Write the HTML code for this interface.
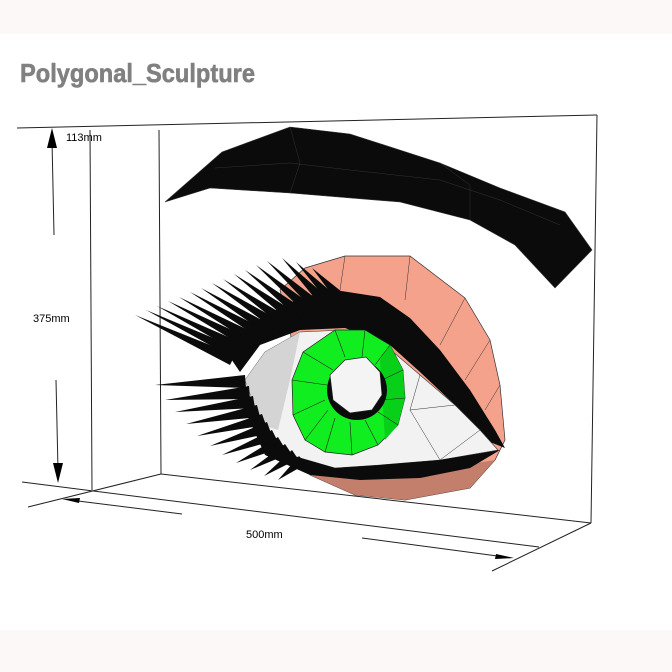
<!DOCTYPE html>
<html><head><meta charset="utf-8"><style>
html,body{margin:0;padding:0;background:#fff}
svg{display:block}
</style></head><body>
<svg width="672" height="672" viewBox="0 0 672 672" xmlns="http://www.w3.org/2000/svg">
<rect x="0" y="0" width="672" height="34" fill="#fdf8f8"/>
<rect x="0" y="630" width="672" height="42" fill="#fdf8f8"/>
<text x="20" y="82" textLength="235" lengthAdjust="spacingAndGlyphs" font-family="'Liberation Sans',sans-serif" font-weight="bold" font-size="26" fill="#808080" stroke="#808080" stroke-width="0.6">Polygonal_Sculpture</text>
<g stroke="#222" stroke-width="1" fill="none">
<line x1="17" y1="128" x2="597" y2="115"/>
<line x1="90" y1="130" x2="92" y2="490"/>
<line x1="159" y1="130" x2="161" y2="474"/>
<line x1="597" y1="115" x2="591" y2="523"/>
<line x1="161" y1="474" x2="591" y2="523"/>
<line x1="22" y1="482" x2="539" y2="547"/>
<line x1="161" y1="474" x2="28" y2="507"/>
<line x1="591" y1="523" x2="492" y2="571"/>
<line x1="52" y1="140" x2="54" y2="235"/>
<line x1="56" y1="380" x2="58" y2="470"/>
<line x1="70" y1="500" x2="182" y2="514"/>
<line x1="362" y1="538" x2="505" y2="557"/>
</g>
<polygon points="52,128 47,148 57,148" fill="#000"/>
<polygon points="58,483 53,463 63,463" fill="#000"/>
<polygon points="62,499 80,498 79,503" fill="#000"/>
<polygon points="514,558 496,554 495,559" fill="#000"/>
<g font-family="'Liberation Sans',sans-serif" font-size="11" fill="#000">
<text x="66" y="141">113mm</text>
<text x="33" y="322">375mm</text>
<text x="246" y="538">500mm</text>
</g>
<!-- eyebrow -->
<polygon points="165,202 222,152 290,127 350,134 440,163 500,188 565,212 592,250 555,288 515,245 470,220 400,202 290,193 210,188" fill="#0b0b0b" stroke="#333" stroke-width="0.6"/>
<g stroke="#333" stroke-width="0.5" fill="none">
<polyline points="215,168 290,163 350,170 440,180 500,200 560,225"/>
<polyline points="290,127 300,163 290,193"/>
<polyline points="440,163 470,185 470,220"/>
</g>
<!-- skin -->
<polygon points="280,290 305,268 345,256 410,256 465,298 490,340 500,385 505,440 495,460 470,488 405,500 355,495 310,475 290,330" fill="#f4a28c" stroke="#333" stroke-width="0.7"/>
<polygon points="310,475 355,495 405,500 470,488 495,460 420,472 350,478" fill="#c47e6c"/>
<g stroke="#333" stroke-width="0.5" fill="none">
<polyline points="345,256 340,290"/><polyline points="410,256 405,300"/><polyline points="465,298 440,345"/>
<polyline points="490,340 465,380"/><polyline points="500,385 485,410"/>
</g>
<!-- upper lid black band -->
<polygon points="225,350 265,315 300,298 335,290 380,297 410,318 440,350 470,390 495,430 505,448 485,440 455,405 420,372 390,345 345,328 300,330 260,345 240,372" fill="#0b0b0b"/>
<!-- eye white -->
<polygon points="245,380 265,352 300,332 345,330 385,345 420,375 455,405 480,430 498,450 440,460 380,465 335,468 290,455 262,425" fill="#f2f2f2" stroke="#333" stroke-width="0.6"/>
<polygon points="245,380 265,352 300,332 290,380 278,430 262,425" fill="#d4d4d4"/>
<g stroke="#333" stroke-width="0.5" fill="none">
<polyline points="420,375 410,410 440,460"/><polyline points="455,405 410,410"/><polyline points="480,430 440,460"/>
</g>
<!-- lower lid black -->
<polygon points="238,395 262,425 290,455 335,468 380,465 440,460 500,450 470,468 420,478 360,480 310,475 265,455" fill="#0b0b0b"/>
<!-- iris -->
<polygon points="335,330 365,330 390,345 403,370 405,398 398,425 378,445 352,455 325,452 305,440 293,415 292,380 303,352" fill="#10ee20" stroke="#222" stroke-width="0.7"/>
<polygon points="390,345 403,370 405,398 398,425 385,440 380,360" fill="#08d018"/>
<g stroke="#222" stroke-width="0.6">
<line x1="335" y1="330" x2="345" y2="357"/><line x1="365" y1="330" x2="362" y2="357"/>
<line x1="390" y1="345" x2="375" y2="365"/><line x1="403" y1="370" x2="382" y2="380"/>
<line x1="405" y1="398" x2="382" y2="400"/><line x1="398" y1="425" x2="378" y2="412"/>
<line x1="378" y1="445" x2="365" y2="420"/><line x1="352" y1="455" x2="350" y2="422"/>
<line x1="325" y1="452" x2="335" y2="418"/><line x1="305" y1="440" x2="328" y2="410"/>
<line x1="293" y1="415" x2="325" y2="400"/><line x1="292" y1="380" x2="327" y2="385"/>
<line x1="303" y1="352" x2="333" y2="370"/>
</g>
<circle cx="357" cy="390" r="30" fill="#0b0b0b"/>
<polygon points="345,360 366,357 380,372 382,395 372,410 350,413 333,400 330,375" fill="#f4f4f4" stroke="#222" stroke-width="0.7"/>
<!-- lashes upper -->
<g fill="#0b0b0b">
<polygon points="135,315 235,355 230,365"/>
<polygon points="146,310 242,350 237,360"/>
<polygon points="157,306 249,346 244,356"/>
<polygon points="168,301 256,341 251,351"/>
<polygon points="179,297 263,337 258,347"/>
<polygon points="190,292 270,332 265,342"/>
<polygon points="201,288 277,328 272,338"/>
<polygon points="212,283 284,323 279,333"/>
<polygon points="223,279 291,319 286,329"/>
<polygon points="234,274 298,314 293,324"/>
<polygon points="245,270 305,310 300,320"/>
<polygon points="256,265 312,305 307,315"/>
<polygon points="267,261 319,301 314,311"/>
<polygon points="282,258 326,296 321,306"/>
<polygon points="296,262 334,294 328,302"/>
<polygon points="312,268 342,292 336,300"/>
<!-- lower -->
<polygon points="155,385 245,375 246,388"/>
<polygon points="165,400 249,386 250,399"/>
<polygon points="175,412 253,396 255,408"/>
<polygon points="186,424 257,405 260,417"/>
<polygon points="197,436 262,414 266,425"/>
<polygon points="210,446 267,422 271,433"/>
<polygon points="222,455 272,430 277,440"/>
<polygon points="236,463 278,437 284,447"/>
<polygon points="250,470 285,444 291,453"/>
<polygon points="264,476 292,450 298,459"/>
<polygon points="278,480 299,456 306,464"/>
</g>
</svg>
</body></html>
